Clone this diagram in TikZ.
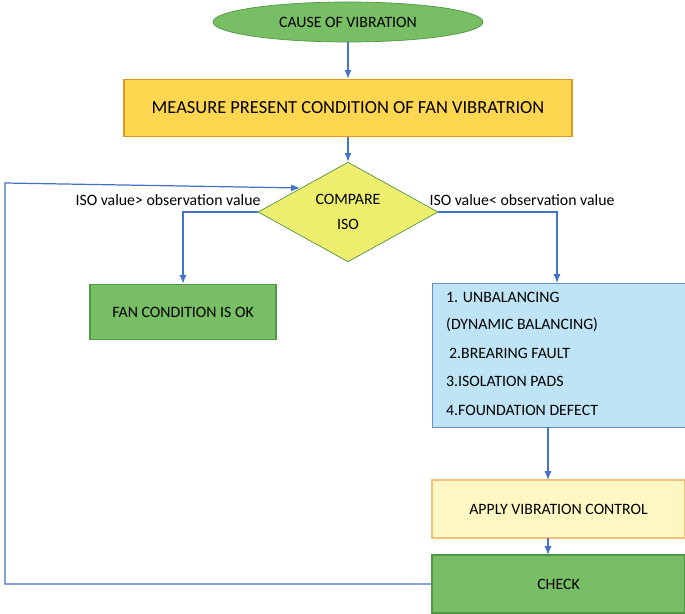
\documentclass[tikz,border=0pt]{standalone}
\usepackage{fontspec}
\setmainfont{Carlito}
\usetikzlibrary{shapes.geometric,arrows.meta}
\definecolor{flowblue}{RGB}{68,114,196}
\definecolor{okgreen}{RGB}{120,190,100}
\definecolor{okgreenline}{RGB}{80,150,70}
\definecolor{measurefill}{RGB}{255,214,80}
\definecolor{measureline}{RGB}{230,150,40}
\definecolor{isofill}{RGB}{238,238,110}
\definecolor{faultfill}{RGB}{190,228,246}
\definecolor{controlfill}{RGB}{253,247,196}
\tikzset{
  flowbox/.style={rectangle,draw,line width=0.8pt,inner sep=2pt},
  flow/.style={-{Latex[length=5pt,width=4pt]},draw=flowblue,line width=0.7pt}
}
\begin{document}
\begin{tikzpicture}[x=0.02cm,y=-0.02cm,font=\fontsize{9}{11}\selectfont]
  \useasboundingbox (0,0) rectangle (685,614);
  \node[ellipse,draw=okgreenline,fill=okgreen,minimum width=270*0.02cm,minimum height=40*0.02cm] (cause) at
  (348,22) {CAUSE OF VIBRATION};
  \node[flowbox,draw=measureline,fill=measurefill,minimum width=448*0.02cm,minimum height=57*0.02cm,font=\fontsize{10.5}{12}\selectfont] (measure) at
  (348,108) {MEASURE PRESENT CONDITION OF FAN VIBRATRION};
  \node[diamond,draw=okgreenline,fill=isofill,minimum width=180*0.02cm,minimum height=95*0.02cm,inner sep=0pt,align=center] (compare) at
  (348,212) {COMPARE\\[3pt]ISO};
  \node[flowbox,draw=okgreenline,fill=okgreen,minimum width=186*0.02cm,minimum height=55*0.02cm] (ok) at
  (183,312) {FAN CONDITION IS OK};
  \node[flowbox,draw=flowblue!80,fill=faultfill,minimum width=253*0.02cm,minimum height=144*0.02cm,anchor=north west] (faults) at
  (432,283) {};
  \node[anchor=west] (f1) at (440,297) {1. UNBALANCING};
  \node[anchor=west] (f2) at (440,325) {(DYNAMIC BALANCING)};
  \node[anchor=west] (f3) at (443,353) {2.BREARING FAULT};
  \node[anchor=west] (f4) at (440,381) {3.ISOLATION PADS};
  \node[anchor=west] (f5) at (440,410) {4.FOUNDATION DEFECT};
  \node[flowbox,draw=measureline!60,fill=controlfill,minimum width=253*0.02cm,minimum height=58*0.02cm] (control) at
  (558.5,509) {APPLY VIBRATION CONTROL};
  \node[flowbox,draw=okgreenline,fill=okgreen,minimum width=253*0.02cm,minimum height=58*0.02cm] (check) at
  (558.5,584) {CHECK};
  \node (gt) at (168,200) {ISO value> observation value};
  \node (lt) at (522,200) {ISO value< observation value};
  \coordinate (loop) at (300,188);
  \draw[flow] (cause) -- (measure);
  \draw[flow] (measure) -- (compare);
  \draw[flow] (compare.west) -| (ok.north);
  \draw[flow] (compare.east) -| (557,283);
  \draw[flow] (548,427) -- (548,480);
  \draw[flow] (548,538) -- (548,555);
  \draw[flow] (check.west) -- (5,584) -- (5,183) -- (loop);
\end{tikzpicture}
\end{document}
